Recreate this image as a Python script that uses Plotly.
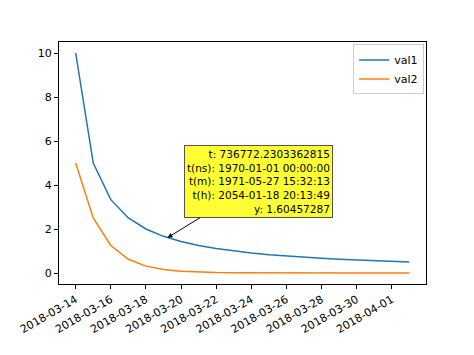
import plotly.graph_objects as go

dates = ["2018-03-14", "2018-03-15", "2018-03-16", "2018-03-17", "2018-03-18",
         "2018-03-19", "2018-03-20", "2018-03-21", "2018-03-22", "2018-03-23",
         "2018-03-24", "2018-03-25", "2018-03-26", "2018-03-27", "2018-03-28",
         "2018-03-29", "2018-03-30", "2018-03-31", "2018-04-01", "2018-04-02"]
val1 = [10.0, 5.0, 3.3333, 2.5, 2.0, 1.6667, 1.4286, 1.25, 1.1111, 1.0,
        0.9091, 0.8333, 0.7692, 0.7143, 0.6667, 0.625, 0.5882, 0.5556, 0.5263, 0.5]
val2 = [5.0, 2.5, 1.25, 0.625, 0.3125, 0.15625, 0.0781, 0.0391, 0.0195, 0.0098,
        0.0049, 0.0024, 0.0012, 0.0006, 0.0003, 0.0002, 0.0001, 0.0, 0.0, 0.0]

ann_x = "2018-03-19 05:31:41"
ann_y = 1.60457287
ann_lines = ["t: 736772.2303362815",
             "t(ns): 1970-01-01 00:00:00",
             "t(m): 1971-05-27 15:32:13",
             "t(h): 2054-01-18 20:13:49",
             "y: 1.60457287"]

font = "DejaVu Sans, Arial, sans-serif"

fig = go.Figure()
fig.add_trace(go.Scatter(x=dates, y=val1, mode="lines", name="val1",
                         line=dict(color="#1f77b4", width=1.5)))
fig.add_trace(go.Scatter(x=dates, y=val2, mode="lines", name="val2",
                         line=dict(color="#ff7f0e", width=1.5)))

fig.add_annotation(x=ann_x, y=ann_y, xref="x", yref="y",
                   text="<br>".join(ann_lines), align="right",
                   showarrow=True, arrowhead=2, arrowsize=1, arrowwidth=1,
                   arrowcolor="black", ax=91, ay=-56,
                   bgcolor="#ffff33", bordercolor="#555555", borderwidth=1,
                   borderpad=2,
                   font=dict(family=font, size=10.5, color="black"))

axis_common = dict(showline=True, linecolor="black", linewidth=1, mirror=True,
                   ticks="outside", ticklen=4, tickcolor="black", showgrid=False,
                   zeroline=False, automargin=False,
                   tickfont=dict(family=font, size=11, color="black"))

fig.update_layout(
    width=474, height=355,
    margin=dict(l=59, r=48, t=42, b=71),
    paper_bgcolor="white", plot_bgcolor="white",
    font=dict(family=font, size=11, color="black"),
    xaxis=dict(range=["2018-03-13 01:12", "2018-04-02 22:48"], type="date",
               tick0="2018-03-14", dtick=2 * 86400000, tickformat="%Y-%m-%d",
               tickangle=-30, **axis_common),
    yaxis=dict(range=[-0.5, 10.5], tick0=0, dtick=2, **axis_common),
    legend=dict(x=0.995, y=0.99, xanchor="right", yanchor="top",
                bgcolor="rgba(255,255,255,0.8)", bordercolor="#cccccc", borderwidth=1,
                font=dict(family=font, size=11), itemwidth=30,
                tracegroupgap=0),
    showlegend=True,
)

fig.write_html("out.html", post_script="document.body.style.margin='0';",
               config={"displayModeBar": False})
